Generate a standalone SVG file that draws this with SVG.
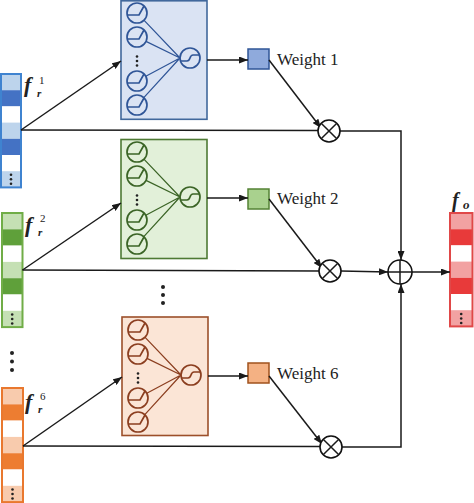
<svg xmlns="http://www.w3.org/2000/svg" xmlns:xlink="http://www.w3.org/1999/xlink" width="474" height="503" viewBox="0 0 474 503">
<style>
.ln{fill:none;stroke:#1a1a1a;stroke-width:1.5}
.op{fill:#fff;stroke:#111;stroke-width:1.6}
.wt{font-family:'Liberation Serif','Times New Roman',serif;font-size:17px;fill:#222}
.fl{font-family:'Liberation Serif','Times New Roman',serif;font-weight:bold;font-style:italic;fill:#222}
.sp{font-family:'Liberation Serif','Times New Roman',serif;font-size:11px;fill:#222}
.dot{fill:#222}
</style>
<defs>
<marker id="ar" markerUnits="userSpaceOnUse" markerWidth="9" markerHeight="7" refX="9" refY="3.5" orient="auto">
<path d="M0,0 L9,3.5 L0,7 z" fill="#1a1a1a"/>
</marker>
<g id="net" fill="none" stroke-width="1.7">
<circle cx="137" cy="13" r="10"/>
<circle cx="137" cy="37" r="10"/>
<circle cx="137" cy="81" r="10"/>
<circle cx="137" cy="105" r="10"/>
<circle cx="190" cy="58" r="10"/>
<path d="M127,15 H139 L144,6 M127,39 H139 L144,30 M127,83 H139 L144,74 M127,107 H139 L144,98"/>
<path d="M181,61 H187 C191,61 189,55 193,55 H199"/>
<path stroke-width="1.2" d="M143.9,20.2 L180,58 M146,41.4 L180,58 M145.8,76.3 L180,58 M143.8,97.6 L180,58"/>
</g>
<g id="vdots"><circle cx="0" cy="-4.5" r="1.3"/><circle cx="0" cy="0" r="1.3"/><circle cx="0" cy="4.5" r="1.3"/></g>
</defs>

<g id="box1">
<rect x="121" y="0.8" width="86" height="118.5" fill="#dae3f3" stroke="#41689c" stroke-width="1.6"/>
<use xlink:href="#net" stroke="#2f5597"/>
<use xlink:href="#vdots" x="137" y="61" fill="#222"/>
</g>
<g id="box2" transform="translate(0,139)">
<rect x="121" y="0.5" width="86" height="119" fill="#e2f0d9" stroke="#4e7a34" stroke-width="1.6"/>
<use xlink:href="#net" stroke="#3b6426"/>
<use xlink:href="#vdots" x="137" y="61" fill="#222"/>
</g>
<g id="box3" transform="translate(1,317)">
<rect x="121" y="0" width="86" height="118.5" fill="#fbe5d6" stroke="#9c4f2a" stroke-width="1.6"/>
<use xlink:href="#net" stroke="#8b3e1f"/>
<use xlink:href="#vdots" x="137" y="61" fill="#222"/>
</g>

<g id="weight1">
<rect x="248" y="49" width="21" height="20" fill="#8faadc" stroke="#2f5597" stroke-width="1.5"/>
<text class="wt" x="277" y="65" font-family="Liberation Serif, serif">Weight 1</text>
</g>
<g id="weight2">
<rect x="248" y="189" width="21" height="20" fill="#a9d18e" stroke="#548235" stroke-width="1.5"/>
<text class="wt" x="277" y="204" font-family="Liberation Serif, serif">Weight 2</text>
</g>
<g id="weight6">
<rect x="248" y="363" width="21" height="20" fill="#f4b183" stroke="#a0521d" stroke-width="1.5"/>
<text class="wt" x="277" y="379" font-family="Liberation Serif, serif">Weight 6</text>
</g>

<g id="vec1">
<rect x="1" y="74" width="20" height="16.2" fill="#bdd4ec"/>
<rect x="1" y="90.2" width="20" height="16.2" fill="#4472c4"/>
<rect x="1" y="106.4" width="20" height="16.2" fill="#fff"/>
<rect x="1" y="122.6" width="20" height="16.2" fill="#bdd4ec"/>
<rect x="1" y="138.8" width="20" height="16.2" fill="#4472c4"/>
<rect x="1" y="155" width="20" height="16.2" fill="#fff"/>
<rect x="1" y="171.2" width="20" height="16.2" fill="#bdd4ec"/>
<rect x="1" y="74" width="20" height="113.4" fill="none" stroke="#3f83d0" stroke-width="2"/>
<use xlink:href="#vdots" x="11" y="179.3" fill="#222"/>
<text class="fl" x="24" y="92" font-size="22">f</text>
<text class="fl" x="37" y="97" font-size="11">r</text>
<text class="sp" x="39" y="84">1</text>
</g>
<g id="vec2">
<rect x="2" y="213" width="20.5" height="16.3" fill="#c5e0b4"/>
<rect x="2" y="229.3" width="20.5" height="16.3" fill="#5fa03a"/>
<rect x="2" y="245.6" width="20.5" height="16.3" fill="#fff"/>
<rect x="2" y="261.9" width="20.5" height="16.3" fill="#c5e0b4"/>
<rect x="2" y="278.2" width="20.5" height="16.3" fill="#5fa03a"/>
<rect x="2" y="294.5" width="20.5" height="16.3" fill="#fff"/>
<rect x="2" y="310.8" width="20.5" height="16.3" fill="#c5e0b4"/>
<rect x="2" y="213" width="20.5" height="114.1" fill="none" stroke="#70ad47" stroke-width="2"/>
<use xlink:href="#vdots" x="12.2" y="319" fill="#222"/>
<text class="fl" x="25" y="232" font-size="22">f</text>
<text class="fl" x="38" y="236" font-size="11">r</text>
<text class="sp" x="40" y="222">2</text>
</g>
<g id="vec6">
<rect x="2" y="388" width="21" height="16.3" fill="#f8cbad"/>
<rect x="2" y="404.3" width="21" height="16.3" fill="#ed7d31"/>
<rect x="2" y="420.6" width="21" height="16.3" fill="#fff"/>
<rect x="2" y="436.9" width="21" height="16.3" fill="#f8cbad"/>
<rect x="2" y="453.2" width="21" height="16.3" fill="#ed7d31"/>
<rect x="2" y="469.5" width="21" height="16.3" fill="#fff"/>
<rect x="2" y="485.8" width="21" height="16.3" fill="#f8cbad"/>
<rect x="2" y="388" width="21" height="114.1" fill="none" stroke="#e9782e" stroke-width="2"/>
<use xlink:href="#vdots" x="12.5" y="494" fill="#222"/>
<text class="fl" x="25" y="409" font-size="22">f</text>
<text class="fl" x="38" y="413" font-size="11">r</text>
<text class="sp" x="40" y="400">6</text>
</g>
<g id="vecout">
<rect x="450" y="213" width="22.5" height="16.2" fill="#f2a2a2"/>
<rect x="450" y="229.2" width="22.5" height="16.2" fill="#e83a3a"/>
<rect x="450" y="245.4" width="22.5" height="16.2" fill="#fff"/>
<rect x="450" y="261.6" width="22.5" height="16.2" fill="#f2a2a2"/>
<rect x="450" y="277.8" width="22.5" height="16.2" fill="#e83a3a"/>
<rect x="450" y="294" width="22.5" height="16.2" fill="#fff"/>
<rect x="450" y="310.2" width="22.5" height="16.2" fill="#f2a2a2"/>
<rect x="450" y="213" width="22.5" height="113.4" fill="none" stroke="#e04848" stroke-width="2"/>
<use xlink:href="#vdots" x="461.2" y="318.5" fill="#222"/>
<text class="fl" x="452" y="207" font-size="20">f</text>
<text class="fl" x="463" y="209" font-size="13">o</text>
</g>

<g id="dots">
<circle class="dot" cx="163" cy="287" r="2"/>
<circle class="dot" cx="163" cy="295" r="2"/>
<circle class="dot" cx="163" cy="303" r="2"/>
<circle class="dot" cx="12" cy="353" r="2"/>
<circle class="dot" cx="12" cy="361.5" r="2"/>
<circle class="dot" cx="12" cy="370" r="2"/>
</g>

<g id="connectors">
<line class="ln" x1="21" y1="130" x2="121" y2="61" marker-end="url(#ar)"/>
<line class="ln" x1="21" y1="130" x2="318" y2="130.5"/>
<line class="ln" x1="207" y1="60" x2="248" y2="60" marker-end="url(#ar)"/>
<line class="ln" x1="269" y1="60" x2="321" y2="128" marker-end="url(#ar)"/>
<polyline class="ln" points="340,131 401,131 401,260" marker-end="url(#ar)"/>

<line class="ln" x1="22.5" y1="270" x2="121" y2="203" marker-end="url(#ar)"/>
<line class="ln" x1="22.5" y1="270" x2="319" y2="271"/>
<line class="ln" x1="207" y1="198" x2="248" y2="198" marker-end="url(#ar)"/>
<line class="ln" x1="269" y1="199" x2="322" y2="268" marker-end="url(#ar)"/>
<line class="ln" x1="341" y1="271" x2="388" y2="272" marker-end="url(#ar)"/>
<line class="ln" x1="412" y1="272" x2="450" y2="272" marker-end="url(#ar)"/>

<line class="ln" x1="23" y1="446" x2="122" y2="377" marker-end="url(#ar)"/>
<line class="ln" x1="23" y1="446" x2="320" y2="446.5"/>
<line class="ln" x1="208" y1="376" x2="248" y2="376" marker-end="url(#ar)"/>
<line class="ln" x1="269" y1="376" x2="322" y2="444" marker-end="url(#ar)"/>
<polyline class="ln" points="342,447 401,447 401,284" marker-end="url(#ar)"/>
</g>

<g id="mul1">
<circle class="op" cx="329" cy="131" r="11"/>
<path class="ln" d="M321.2,123.2 L336.8,138.8 M336.8,123.2 L321.2,138.8"/>
</g>
<g id="mul2">
<circle class="op" cx="330" cy="271" r="11"/>
<path class="ln" d="M322.2,263.2 L337.8,278.8 M337.8,263.2 L322.2,278.8"/>
</g>
<g id="mul6">
<circle class="op" cx="331" cy="447" r="11"/>
<path class="ln" d="M323.2,439.2 L338.8,454.8 M338.8,439.2 L323.2,454.8"/>
</g>
<g id="sum">
<circle class="op" cx="400" cy="272" r="12"/>
<path class="ln" d="M388,272 H412 M400,260 V284"/>
</g>
</svg>
